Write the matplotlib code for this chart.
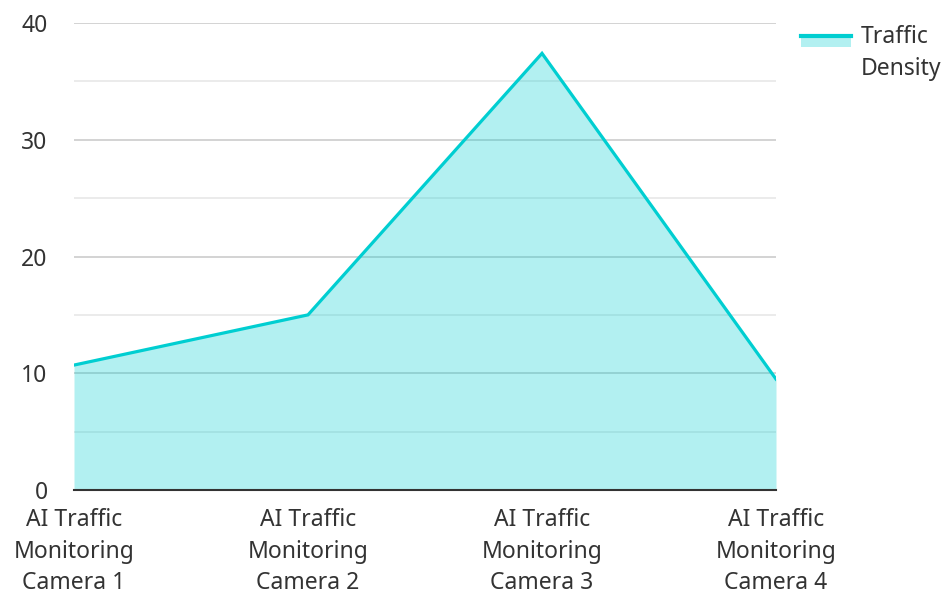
import matplotlib
matplotlib.use("Agg")
import matplotlib.pyplot as plt
from matplotlib.patches import Rectangle
from matplotlib.lines import Line2D

plt.rcParams['font.family'] = ['Noto Sans', 'DejaVu Sans']

cameras = ["AI Traffic\nMonitoring\nCamera 1", "AI Traffic\nMonitoring\nCamera 2",
           "AI Traffic\nMonitoring\nCamera 3", "AI Traffic\nMonitoring\nCamera 4"]
density = [10.7, 15.0, 37.4, 9.5]
series_name = "Traffic\nDensity"
y_ticks = [0, 10, 20, 30, 40]

line_col = "#00CED1"
text_col = "#333333"

fig = plt.figure(figsize=(9.5, 5.94), dpi=100)
ax = fig.add_axes([74 / 950, 1 - 490 / 594, 702 / 950, 467 / 594])

x = list(range(len(cameras)))
ax.fill_between(x, density, 0, color=line_col, alpha=0.3, linewidth=0, zorder=2)
ax.plot(x, density, color=line_col, linewidth=2.3, zorder=3, solid_joinstyle='miter')

ax.set_xlim(0, len(cameras) - 1)
ax.set_ylim(0, 40)
ax.set_yticks(y_ticks)
ax.set_yticks([5, 15, 25, 35], minor=True)
ax.set_xticks(x)
ax.set_xticklabels(cameras, fontsize=16.5, color=text_col, linespacing=1.42)
ax.tick_params(axis='y', labelsize=16.5, labelcolor=text_col, length=0, pad=19)
ax.tick_params(axis='y', which='minor', length=0)
ax.tick_params(axis='x', length=0, pad=13)

ax.set_axisbelow(True)
ax.grid(axis='y', which='major', color='#cccccc', linewidth=1.2)
ax.grid(axis='y', which='minor', color='#e8e8e8', linewidth=1.2)
for s in ['left', 'right', 'top']:
    ax.spines[s].set_visible(False)
ax.spines['bottom'].set_color('#333333')
ax.spines['bottom'].set_linewidth(1.5)
ax.spines['bottom'].set_zorder(4)

# legend
W, H = 950, 594
fig.add_artist(Rectangle((801 / W, 1 - 47 / H), 50 / W, 12 / H,
                         transform=fig.transFigure, color=line_col, alpha=0.3, linewidth=0))
fig.add_artist(Line2D([801 / W, 851 / W], [1 - 36 / H, 1 - 36 / H],
                      transform=fig.transFigure, color=line_col, linewidth=3))
fig.text(861 / W, 1 - 25 / H, series_name, fontsize=16.5, color=text_col,
         va='top', ha='left', linespacing=1.42)

fig.savefig("out.png", dpi=100)
